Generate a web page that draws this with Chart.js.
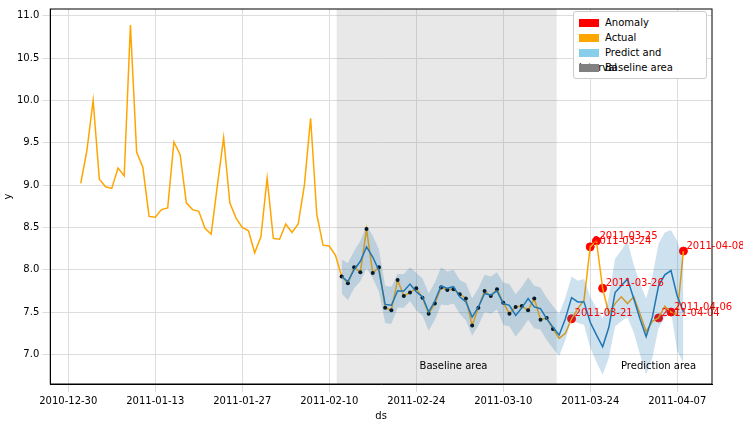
<!DOCTYPE html>
<html><head><meta charset="utf-8">
<script src="https://cdn.jsdelivr.net/npm/chart.js@4"></script>
<style>body{margin:0;background:#fff;font-family:"DejaVu Sans";}#w{position:relative;width:743px;height:424px;}
#lg{position:absolute;left:573px;top:11px;width:122px;border:1px solid #ccc;border-radius:3px;background:#fff;font:10px "DejaVu Sans";padding:3px 5px;}
#lg div{height:15px;line-height:15px;}#lg span{display:inline-block;width:20px;height:8px;margin-right:6px;vertical-align:-1px;}</style>
</head><body><div id="w"><canvas id="c" width="743" height="424"></canvas>
<div id="lg"><div><span style="background:#ff0000"></span>Anomaly</div><div><span style="background:#ffa500"></span>Actual</div><div><span style="background:#87ceeb"></span>Predict and interval</div><div><span style="background:#808080"></span>Baseline area</div></div></div>
<script>
const startDate='2011-01-01';
const actual=[9.02,9.41,10.0,9.07,8.98,8.96,9.20,9.11,10.89,9.39,9.21,8.63,8.62,8.71,8.73,9.51,9.36,8.79,8.71,8.69,8.49,8.42,9.0,9.56,8.79,8.61,8.50,8.46,8.20,8.39,9.08,
8.37,8.36,8.54,8.44,8.54,9.0,9.79,8.65,8.29,8.28,8.17,7.92,7.84,8.03,7.97,8.48,7.96,8.03,7.55,7.52,7.88,7.69,7.73,7.78,7.67,7.48,7.60,7.79,
7.76,7.77,7.71,7.66,7.34,7.55,7.75,7.69,7.77,7.61,7.48,7.56,7.57,7.52,7.66,7.41,7.43,7.30,7.19,7.25,7.42,7.54,7.64,8.27,8.34,7.78,7.48,7.60,7.68,7.60,7.68,
7.48,7.27,7.39,7.43,7.57,7.50,7.47,8.22];
const predStart=42;
const predicted=[7.92,7.86,8.0,8.10,8.27,8.15,7.99,7.59,7.58,7.75,7.75,7.83,7.74,7.68,7.50,7.63,7.81,
7.78,7.80,7.68,7.62,7.44,7.56,7.72,7.70,7.75,7.60,7.58,7.46,7.55,7.66,7.56,7.54,7.42,7.32,7.23,7.42,7.67,7.62,7.62,7.38,7.23,7.09,7.32,7.73,7.81,7.89,7.66,
7.42,7.21,7.44,7.81,7.94,7.99,7.69,7.50];
const halfWidth=[0.2,0.22,0.22,0.24,0.25,0.25,0.25,0.22,0.22,0.2,0.2,0.2,0.22,0.22,0.22,0.22,0.22,
0.2,0.2,0.2,0.22,0.22,0.22,0.22,0.22,0.22,0.25,0.25,0.25,0.25,0.25,0.25,0.25,0.25,0.25,0.25,0.25,0.25,0.25,0.27,0.3,0.32,0.33,0.36,0.4,0.42,0.45,0.4,
0.42,0.45,0.48,0.5,0.5,0.48,0.65,0.6];
const anomalyDates=['2011-03-21','2011-03-24','2011-03-25','2011-03-26','2011-04-04','2011-04-06','2011-04-08'];
const baselineStart='2011-02-12', baselineEnd='2011-03-18';
const tickOrigin='2010-12-30';
const DAY=86400000, t0=Date.parse(tickOrigin);
const dnum=s=>(Date.parse(s)-t0)/DAY;
const s0=dnum(startDate);
const fmt=d=>new Date(t0+d*DAY).toISOString().slice(0,10);
const actPts=actual.map((v,i)=>({x:s0+i,y:v}));
const predPts=predicted.map((v,i)=>({x:s0+predStart+i,y:v}));
const upPts=predicted.map((v,i)=>({x:s0+predStart+i,y:v+halfWidth[i]}));
const loPts=predicted.map((v,i)=>({x:s0+predStart+i,y:v-halfWidth[i]}));
const bsI=dnum(baselineStart)-s0, beI=dnum(baselineEnd)-s0+1;
const basePts=actPts.slice(bsI,beI);
const anPts=anomalyDates.map(d=>({x:dnum(d),y:actual[dnum(d)-s0],label:d}));
const bg={id:'bg',beforeDatasetsDraw(c){const x=c.scales.x,a=c.chartArea,g=c.ctx;g.save();g.fillStyle='rgba(128,128,128,0.18)';
const l=x.getPixelForValue(dnum(baselineStart)-0.8),r=x.getPixelForValue(dnum(baselineEnd)+0.6);g.fillRect(l,a.top,r-l,a.bottom-a.top);g.restore();},
afterDatasetsDraw(c){const x=c.scales.x,y=c.scales.y,g=c.ctx,a=c.chartArea;g.save();g.font='10px "DejaVu Sans"';g.fillStyle='#ff0000';g.textBaseline='middle';
anPts.forEach(p=>g.fillText(p.label,x.getPixelForValue(p.x)+3,y.getPixelForValue(p.y)-5));
g.fillStyle='#000';g.textAlign='center';
g.fillText('Baseline area',x.getPixelForValue(dnum('2011-03-02')),y.getPixelForValue(6.86));
g.fillText('Prediction area',x.getPixelForValue(dnum('2011-04-04')),y.getPixelForValue(6.86));
g.strokeStyle='#000';g.lineWidth=1;g.strokeRect(a.left,a.top,a.right-a.left,a.bottom-a.top);
g.restore();}};
new Chart(document.getElementById('c'),{type:'line',data:{datasets:[
{data:loPts,borderWidth:0,pointRadius:0,fill:false},
{data:upPts,borderWidth:0,pointRadius:0,fill:'-1',backgroundColor:'rgba(31,119,180,0.22)'},
{data:predPts,borderColor:'#1f77b4',borderWidth:1.5,pointRadius:0},
{data:basePts,showLine:false,pointRadius:2,pointBackgroundColor:'#000',pointBorderWidth:0},
{data:actPts,borderColor:'#ffa500',borderWidth:1.5,pointRadius:0},
{data:anPts,showLine:false,pointRadius:4,pointBackgroundColor:'#ff0000',pointBorderColor:'#ff0000'}
]},options:{responsive:false,animation:false,layout:{padding:{left:2,right:31,top:6,bottom:2}},
plugins:{legend:{display:false},tooltip:{enabled:false}},
scales:{x:{type:'linear',min:-2.9,max:103.6,afterBuildTicks:a=>{a.ticks=[0,14,28,42,56,70,84,98].map(v=>({value:v}));},
ticks:{callback:v=>fmt(v),maxRotation:0,color:'#000',font:{family:'DejaVu Sans',size:10}},grid:{color:'#ddd'},border:{color:'#000'},
title:{display:true,text:'ds',color:'#000',font:{family:'DejaVu Sans',size:10},padding:0}},
y:{min:6.65,max:11.08,afterBuildTicks:a=>{a.ticks=[7,7.5,8,8.5,9,9.5,10,10.5,11].map(v=>({value:v}));},
ticks:{callback:v=>v.toFixed(1),color:'#000',font:{family:'DejaVu Sans',size:10}},grid:{color:'#ddd'},border:{color:'#000'},
title:{display:true,text:'y',color:'#000',font:{family:'DejaVu Sans',size:10},padding:0}}}},plugins:[bg]});
</script></body></html>
